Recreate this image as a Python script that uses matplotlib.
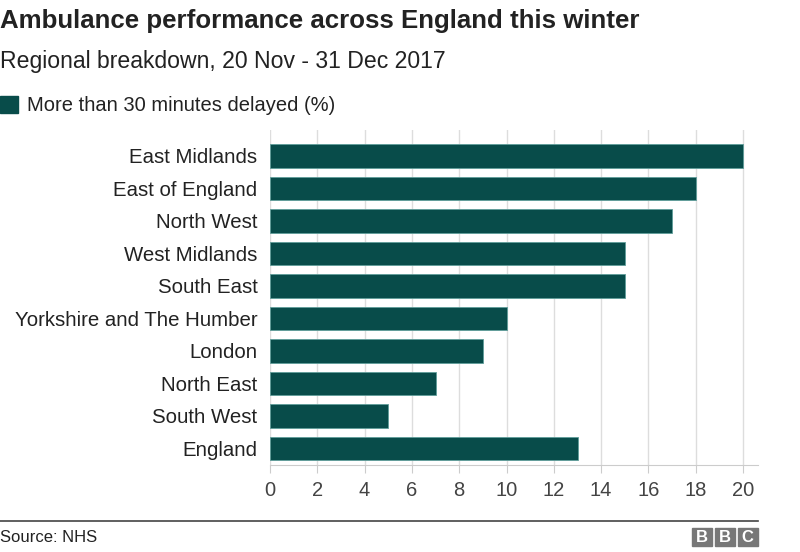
import matplotlib.pyplot as plt
from matplotlib.patches import Rectangle

plt.rcParams['font.family'] = ['Liberation Sans', 'DejaVu Sans']

regions = ['East Midlands', 'East of England', 'North West', 'West Midlands',
           'South East', 'Yorkshire and The Humber', 'London', 'North East',
           'South West', 'England']
delayed = [20, 18, 17, 15, 15, 10, 9, 7, 5, 13]
xticks = [0, 2, 4, 6, 8, 10, 12, 14, 16, 18, 20]

bar_color = '#084c4a'
text_color = '#222222'

fig = plt.figure(figsize=(8, 5.52), dpi=100)
# axes spans x 270..758 px, y 130..465 px
ax = fig.add_axes([0.3375, 0.158, 0.61, 0.6069])

ypos = list(range(len(regions)))
ax.barh(ypos, delayed, height=0.72, color=bar_color, edgecolor='#5f9d9a',
        linewidth=0.6, zorder=3)
ax.set_yticks(ypos)
ax.set_yticklabels(regions, fontsize=14.7, color=text_color)
ax.set_ylim(len(regions) - 0.5, -0.8)
ax.set_xlim(0, 20.63)
ax.set_xticks(xticks)
ax.set_xticklabels([str(t) for t in xticks], fontsize=14.5, color='#444444')

ax.grid(axis='x', color='#dddddd', linewidth=1, zorder=0)
for s in ['top', 'right', 'left']:
    ax.spines[s].set_visible(False)
ax.spines['bottom'].set_color('#cccccc')
ax.tick_params(axis='y', length=0, pad=9)
ax.tick_params(axis='x', length=6, color='#cccccc', pad=6)

# titles
fig.text(0.0, 0.962, 'Ambulance performance across England this winter',
         fontsize=18.6, fontweight='bold', color=text_color, va='center')
fig.text(0.0, 0.889, 'Regional breakdown, 20 Nov - 31 Dec 2017',
         fontsize=16.6, color=text_color, va='center')

# legend
fig.patches.append(Rectangle((0.0, 0.795), 0.0225, 0.031, transform=fig.transFigure,
                             color=bar_color, figure=fig))
fig.text(0.034, 0.809, 'More than 30 minutes delayed (%)',
         fontsize=14.5, color=text_color, va='center')

# footer
fig.add_artist(plt.Line2D([0, 0.9475], [0.057, 0.057], color='#444444',
                          linewidth=1.2, transform=fig.transFigure))
fig.text(0.0, 0.026, 'Source: NHS', fontsize=12, color=text_color, va='center')

bx = 0.865
for letter in 'BBC':
    fig.patches.append(Rectangle((bx, 0.011), 0.025, 0.033, transform=fig.transFigure,
                                 color='#777777', figure=fig))
    fig.text(bx + 0.0125, 0.0265, letter, fontsize=12, fontweight='bold',
             color='white', ha='center', va='center')
    bx += 0.0285

fig.savefig('out.png', dpi=100)
